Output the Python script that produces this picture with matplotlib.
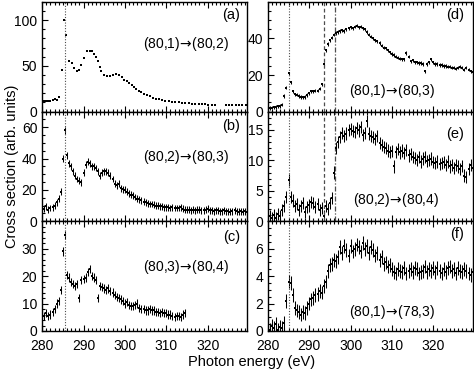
import matplotlib
matplotlib.use("Agg")
import matplotlib.pyplot as plt
from matplotlib.ticker import MultipleLocator

plt.rcParams["font.family"] = ["Liberation Sans", "DejaVu Sans"]
plt.rcParams["font.size"] = 10

# measured grid (eV), shared by panels b-f
energies = [
    280.0, 280.5, 281.0, 281.5, 282.0, 282.5, 283.0, 283.5, 284.0, 284.5,
    285.0, 285.5, 286.0, 286.5, 287.0, 287.5, 288.0, 288.5, 289.0, 289.5,
    290.0, 290.5, 291.0, 291.5, 292.0, 292.5, 293.0, 293.5, 294.0, 294.5,
    295.0, 295.5, 296.0, 296.5, 297.0, 297.5, 298.0, 298.5, 299.0, 299.5,
    300.0, 300.5, 301.0, 301.5, 302.0, 302.5, 303.0, 303.5, 304.0, 304.5,
    305.0, 305.5, 306.0, 306.5, 307.0, 307.5, 308.0, 308.5, 309.0, 309.5,
    310.0, 310.5, 311.0, 311.5, 312.0, 312.5, 313.0, 313.5, 314.0, 314.5,
    315.0, 315.5, 316.0, 316.5, 317.0, 317.5, 318.0, 318.5, 319.0, 319.5,
    320.0, 320.5, 321.0, 321.5, 322.0, 322.5, 323.0, 323.5, 324.0, 324.5,
    325.0, 325.5, 326.0, 326.5, 327.0, 327.5, 328.0, 328.5, 329.0, 329.5,
]

# (a) (80,1)->(80,2)
energy_a = [
    280.0, 280.5, 281.0, 281.5, 282.0, 282.5, 283.0, 283.5, 284.0, 284.8,
    285.3, 285.7, 286.4, 287.2, 287.8, 288.3, 288.9, 289.5, 290.2, 290.9,
    291.5, 292.1, 292.6, 293.0, 293.4, 293.9, 294.3, 295.0, 295.7, 296.4,
    297.1, 297.8, 298.5, 299.2, 299.8, 300.4, 301.0, 301.6, 302.2, 302.8,
    303.4, 304.0, 304.7, 305.4, 306.0, 306.8, 307.5, 308.2, 309.0, 309.8,
    310.6, 311.4, 312.2, 313.0, 313.8, 314.6, 315.4, 316.2, 317.0, 317.8,
    318.6, 319.4, 320.2, 321.0, 321.8, 324.4, 325.2, 326.0, 326.8, 327.6,
    328.4, 329.2,
]
sigma_a = [
    12, 11.5, 12, 11.5, 12, 13, 14, 13, 15.5, 45,
    100, 84, 55, 53, 48, 44, 46, 51, 58.5, 66,
    66.5, 66, 63, 60, 55, 49, 44, 40, 39, 39,
    40, 41, 40, 37.5, 35, 33, 30.8, 29, 27, 25,
    23, 21.5, 19.5, 18, 16.7, 15.3, 14.3, 13.5, 12.5, 11.8,
    11.2, 10.8, 10.4, 10, 9.6, 9.3, 9, 8.8, 8.5, 8.2,
    8, 7.9, 7.7, 7.6, 7.5, 7.3, 7.2, 7.1, 7.0, 6.9,
    6.8, 6.7,
]

# (b) (80,2)->(80,3)
sigma_b = [
    9, 8, 9.5, 7.5, 8.5, 9, 10, 12, 14.5, 19,
    40, 58, 42, 37, 35, 32, 29, 27, 26, 25,
    31, 36, 38, 37, 35, 35, 34, 32, 29, 31,
    32, 32, 31, 29, 27, 24, 23, 24, 21, 20.5,
    20, 19, 18, 17, 16.5, 15.5, 14.5, 14, 13.5, 12.5,
    12, 11.5, 11, 11, 10.5, 10, 10, 9.5, 9.5, 9,
    9, 9, 8.5, 9, 8.5, 8.5, 8.5, 9, 8, 7.5,
    7.5, 7.5, 7, 7.5, 7, 7.5, 7.5, 7, 7, 7.5,
    8, 7, 7, 6.5, 7, 7, 6.5, 6.5, 7, 6.5,
    6.5, 6, 6.5, 7, 6.5, 6, 6.5, 6, 6.5, 6,
]

# (c) (80,3)->(80,4), measured up to 314.5 eV
sigma_c = [
    6, 5.5, 6.5, 5.5, 6, 7, 8, 10, 11, 15,
    29, 35, 20.5, 19.5, 18, 17, 16.5, 17, 12, 18.5,
    19, 19.5, 21.5, 22.5, 20, 19.5, 18.5, 12, 16.5, 16,
    15.5, 15, 15.5, 14.5, 14, 13, 12.5, 12, 11.5, 11,
    10, 10.5, 9.5, 9, 9, 9.5, 10, 8.5, 8, 8,
    7.5, 7.5, 8, 7.5, 7.5, 7, 7, 6.5, 7, 6.5,
    6.5, 6, 6, 5.5, 5, 5.5, 5.5, 5, 6, 6.5,
]

# (d) (80,1)->(80,3)
sigma_d = [
    2, 2, 2.2, 2.3, 2.5, 2.8, 3, 3.8, 8.5, 13,
    21, 16, 11, 9.5, 9.3, 8.5, 8, 7.7, 8, 9,
    10, 11, 11, 11.5, 11.5, 12.5, 15, 26, 33.5, 37,
    39, 40.5, 42, 43, 43.5, 44, 44.5, 44, 45, 45.5,
    46, 45.5, 46.5, 47, 46, 46.5, 45.5, 45, 43.5, 42,
    41, 40, 39, 38.5, 37.5, 36, 35, 34.5, 33.5, 32.5,
    31.5, 31, 30, 29.5, 29, 28.5, 28.5, 32, 30, 27.5,
    28, 27, 27, 26.5, 26.5, 26, 22, 26, 27, 28.5,
    27, 26, 26, 25.5, 25.5, 25, 25, 24.5, 24.5, 24,
    24, 23.5, 24, 24.5, 24, 23, 24, 23, 22, 21.5,
]

# (e) (80,2)->(80,4)
sigma_e = [
    1.5, 0.8, 0.5, 1, 0.6, 1.2, 0.9, 1.8, 2.5, 4,
    6.8, 4, 3.4, 2.5, 2.8, 1.8, 2.5, 3, 1.5, 2.3,
    2.6, 3.2, 3, 2.4, 2.9, 1.8, 2.2, 0.8, 2.5, 2,
    3, 3.8, 8, 12, 13, 13.8, 14.5, 14, 14.4, 15,
    15.2, 14.8, 14.6, 15.3, 14.9, 15.5, 14.1, 14.5, 16.5, 14.4,
    14, 13.8, 13.5, 14, 12.8, 12.5, 12.2, 12, 11.6, 11.4,
    11.5, 9, 11.4, 11.8, 11.3, 11.6, 11.2, 11.7, 10.8, 11,
    10.6, 10.4, 10, 10.5, 9.8, 10.3, 10.6, 9.9, 10, 10.3,
    9.7, 9.5, 9.8, 9.4, 9.5, 9.7, 9.3, 9.8, 9, 9.2,
    8.8, 9.2, 9, 8.6, 9.1, 7.5, 7.3, 8.6, 9.2, 8.8,
]

# (f) (80,1)->(78,3)
sigma_f = [
    0.3, 0.1, 0.4, 0.2, 0.5, 0.1, 0.3, 0.2, 0.6, 2.2,
    3.6, 3.5, 2.6, 1.7, 1.5, 1.4, 1.2, 1.4, 1.3, 1.7,
    2.0, 2.3, 2.4, 2.6, 2.7, 2.9, 2.8, 3.3, 3.6, 4.4,
    4.8, 4.9, 5.2, 5.1, 5.4, 6.1, 5.7, 6.2, 5.9, 5.5,
    6.2, 5.8, 6.0, 6.3, 6.1, 5.8, 6.4, 6.0, 6.2, 5.7,
    6.1, 5.9, 5.5, 5.7, 5.2, 5.4, 4.9, 5.0, 4.7, 4.8,
    4.5, 4.3, 4.2, 4.5, 4.4, 4.3, 4.6, 4.2, 4.4, 4.5,
    4.3, 4.6, 4.5, 4.2, 4.3, 4.4, 4.7, 4.3, 4.5, 4.4,
    4.6, 4.3, 4.6, 4.4, 4.2, 4.5, 4.3, 4.6, 4.7, 4.4,
    4.5, 4.2, 4.6, 4.4, 4.3, 4.5, 4.4, 4.2, 4.1, 4.3,
]

# typical error bar per panel (b-f)
err_b, err_c, err_d, err_e, err_f = 2.2, 1.5, 0.9, 1.0, 0.5

titles = [r"(80,1)$\!\rightarrow\!$(80,2)", r"(80,2)$\!\rightarrow\!$(80,3)",
          r"(80,3)$\!\rightarrow\!$(80,4)", r"(80,1)$\!\rightarrow\!$(80,3)",
          r"(80,2)$\!\rightarrow\!$(80,4)", r"(80,1)$\!\rightarrow\!$(78,3)"]
tags = ["(a)", "(b)", "(c)", "(d)", "(e)", "(f)"]
ylims = [120, 70, 40, 60, 18, 8]
yticks = [[0, 50, 100], [0, 20, 40, 60], [0, 10, 20, 30],
          [0, 20, 40], [0, 5, 10, 15], [0, 2, 4, 6]]
yminor = [10, 5, 2, 5, 1, 0.5]
edges_left = [285.5]
edges_right = [285.2, 293.6, 296.2]


def style(ax, i):
    ax.set_xlim(280, 329.6)
    ax.set_ylim(0, ylims[i])
    ax.set_xticks([280, 290, 300, 310, 320])
    ax.xaxis.set_minor_locator(MultipleLocator(1))
    ax.set_yticks(yticks[i])
    ax.yaxis.set_minor_locator(MultipleLocator(yminor[i]))
    ax.tick_params(which="both", direction="in", top=True, right=False,
                   labelsize=10, width=0.8)
    ax.tick_params(which="major", length=4)
    ax.tick_params(which="minor", length=2.5)
    ax.tick_params(axis="x", pad=6)
    for s in ax.spines.values():
        s.set_linewidth(1.0)
    if i not in (2, 5):
        ax.tick_params(labelbottom=False)


def main():
    fig = plt.figure(figsize=(4.74, 3.74), dpi=100)
    gs = fig.add_gridspec(3, 2, left=0.089, right=0.998, top=0.995,
                          bottom=0.115, hspace=0, wspace=0.10)
    axes = [fig.add_subplot(gs[r, c]) for c in range(2) for r in range(3)]

    eb = dict(fmt="s", color="k", ms=2.0, mew=0, elinewidth=0.75,
              capsize=0.9, capthick=0.6)

    axes[0].plot(energy_a, sigma_a, "s", color="k", ms=2.0, mew=0)
    axes[1].errorbar(energies, sigma_b, yerr=err_b, **eb)
    axes[2].errorbar(energies[:len(sigma_c)], sigma_c, yerr=err_c, **eb)
    axes[3].errorbar(energies, sigma_d, yerr=err_d, **eb)
    axes[4].errorbar(energies, sigma_e, yerr=err_e, **eb)
    axes[5].errorbar(energies, sigma_f, yerr=err_f, **eb)

    for i in range(3):
        axes[i].axvline(edges_left[0], color="0.3", lw=0.8, ls=(0, (1, 1.5)))
    for i in range(3, 6):
        axes[i].axvline(edges_right[0], color="0.3", lw=0.8, ls=(0, (1, 1.5)))
    for i in (3, 4):
        axes[i].axvline(edges_right[1], color="0.3", lw=0.9, ls=(0, (3, 2)))
        axes[i].axvline(edges_right[2], color="0.3", lw=0.9,
                        ls=(0, (4, 1.5, 1, 1.5)))

    tag_pos = [(0.965, 0.88), (0.965, 0.87), (0.965, 0.86),
               (0.955, 0.88), (0.955, 0.80), (0.955, 0.88)]
    title_pos = [(0.70, 0.62), (0.70, 0.585), (0.70, 0.585),
                 (0.607, 0.19), (0.623, 0.197), (0.607, 0.17)]
    for i, ax in enumerate(axes):
        style(ax, i)
        ax.text(*tag_pos[i], tags[i], transform=ax.transAxes, ha="right",
                va="center", fontsize=10.5)
        ax.text(*title_pos[i], titles[i], transform=ax.transAxes, ha="center",
                va="center", fontsize=10)

    fig.text(0.025, 0.555, "Cross section (arb. units)", rotation=90,
             ha="center", va="center", fontsize=10.5)
    fig.text(0.53, 0.032, "Photon energy (eV)", ha="center", va="center",
             fontsize=10.5)
    fig.savefig("out.png", dpi=100)


if __name__ == "__main__":
    main()
